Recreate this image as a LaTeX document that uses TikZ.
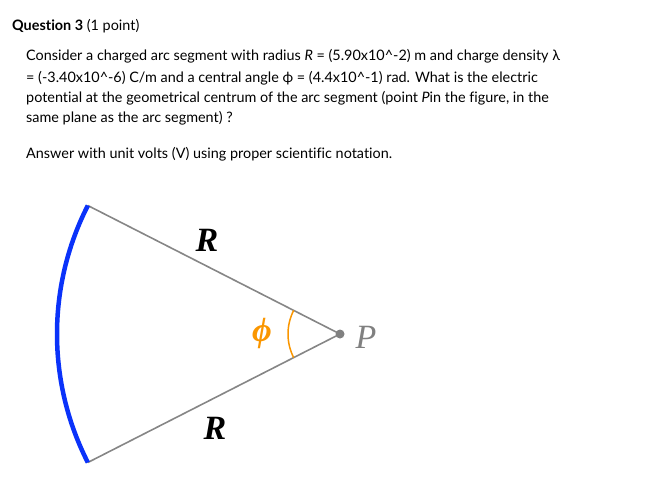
\documentclass[tikz,border=0pt]{standalone}
\usepackage{fontspec}
\usetikzlibrary{calc}
\setmainfont{Lato}[Ligatures=NoCommon]
\newfontfamily\serif{Liberation Serif}
\begin{document}
\begin{tikzpicture}[x=1pt,y=-1pt,
  txt/.style={anchor=base west,inner sep=0pt,font=\fontsize{14.4}{16}\selectfont},
  lab/.style={inner sep=0pt,font=\serif\itshape\fontsize{34}{36}\selectfont},
  rad/.style={draw=gray!95,line width=1.6pt}]
\useasboundingbox (0,0) rectangle (647,491);
\node[txt] (q) at (12,30) {\textbf{Question 3} (1 point)};
\node[txt] (l1) at (26,60) {Consider a charged arc segment with radius \textit{R} = (5.90x10\textasciicircum-2) m and charge density λ};
\node[txt] (l2) at (26,82) {= (-3.40x10\textasciicircum-6) C/m and a central angle ϕ = (4.4x10\textasciicircum-1) rad. What is the electric};
\node[txt] (l3) at (26,102) {potential at the geometrical centrum of the arc segment (point \textit{P}in the figure, in the};
\node[txt] (l4) at (26,122) {same plane as the arc segment) ?};
\node[txt] (l5) at (26,158) {Answer with unit volts (V) using proper scientific notation.};
\coordinate (P) at (340,334);
\coordinate (A) at ($(P)+(153:283)$);
\coordinate (B) at ($(P)+(207:283)$);
\draw[rad] (P) -- (A);
\draw[rad] (P) -- (B);
\draw[line width=4.5pt,draw={rgb,255:red,10;green,50;blue,250}] (A) arc[start angle=153,end angle=207,radius=283];
\draw[line width=1.5pt,draw={rgb,255:red,250;green,150;blue,0}] ($(P)+(153:52)$) arc[start angle=153,end angle=207,radius=52];
\fill[gray] (P) circle (4.5);
\node[lab,font=\serif\itshape\bfseries\fontsize{34}{36}\selectfont] (r1) at (207,240) {R};
\node[lab,font=\serif\itshape\bfseries\fontsize{34}{36}\selectfont] (r2) at (215,428) {R};
\node[lab,font=\serif\itshape\bfseries\fontsize{34}{36}\selectfont,text={rgb,255:red,250;green,150;blue,0}] (phi) at (262,333) {ϕ};
\node[lab,text=gray] (p) at (366,337) {P};
\end{tikzpicture}
\end{document}
